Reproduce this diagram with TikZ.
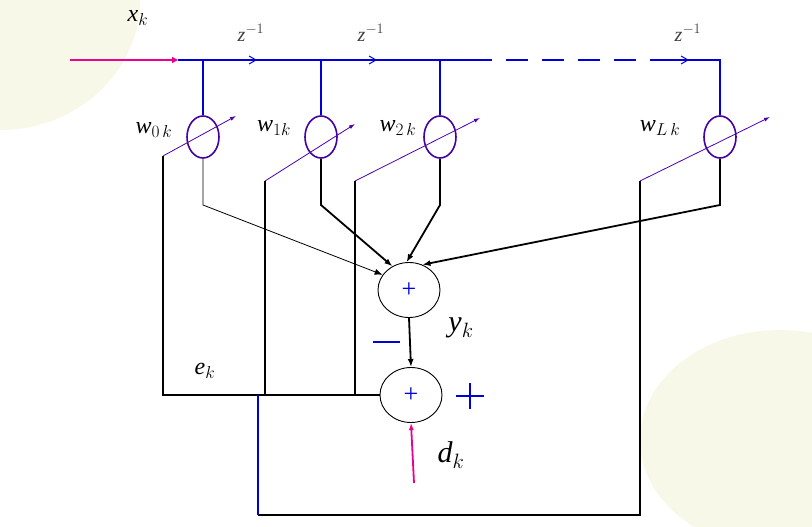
\documentclass[tikz,border=0pt]{standalone}
\usepackage{fontspec}
\setmainfont{Liberation Serif}
\usetikzlibrary{arrows.meta,shapes.geometric}
\begin{document}
\begin{tikzpicture}[x=1pt,y=-1pt,
  bus/.style={draw=blue!85!black,line width=1.8pt},
  blk/.style={draw=black,line width=1.8pt},
  wt/.style={ellipse,draw=blue!60!purple!90!black,line width=1.6pt,minimum width=32pt,minimum height=42pt,inner sep=0pt},
  sm/.style={ellipse,draw=black,line width=0.9pt,minimum width=62pt,minimum height=55pt,inner sep=0pt,text=blue!85!black,font=\fontsize{26}{28}\selectfont},
  adj/.style={draw=blue!60!purple,line width=0.8pt,-{Latex[length=6pt,width=4pt]}},
  lab/.style={font=\fontsize{24}{26}\selectfont\itshape},
  big/.style={font=\fontsize{30}{32}\selectfont\itshape},
  zl/.style={font=\fontsize{20}{22}\selectfont\itshape,text=black!75},
  inner sep=0pt]
\useasboundingbox[fill=white] (0,0) rectangle (812,527);
\fill[olive!6] (0,0) ellipse (140 and 130);
\fill[olive!6] (780,440) ellipse (140 and 110);
% taps
\coordinate (in) at (70,60);
\coordinate (b0) at (178,60);
\coordinate (t0) at (203,60);
\coordinate (t1) at (321,60);
\coordinate (t2) at (440,60);
\coordinate (d1) at (470,60);
\coordinate (d2) at (660,60);
\coordinate (tL) at (720,60);
\node[wt] (w0) at (203,137) {};
\node[wt] (w1) at (321,137) {};
\node[wt] (w2) at (440,137) {};
\node[wt] (wL) at (720,137) {};
\draw[draw=magenta,line width=2.4pt,-{Triangle[length=6pt,width=6pt]}] (in) -- (b0);
\draw[bus] (b0) -- (d1);
\draw[bus,dash pattern=on 22pt off 14pt] (d1) -- (d2);
\draw[bus] (d2) -- (tL) -- (wL.north);
\draw[bus] (t0) -- (w0.north);
\draw[bus] (t1) -- (w1.north);
\draw[bus] (t2) -- (w2.north);
\foreach \x in {256,376,688}{
  \draw[blue!85!black,line width=1pt] (\x-7,56) -- (\x,60) -- (\x-7,64);
}
\node[zl] (z1) at (251,33) {z$^{-1}$};
\node[zl] (z2) at (371,33) {z$^{-1}$};
\node[zl] (z3) at (688,33) {z$^{-1}$};
\node[lab] (xk) at (138,18) {x$_{k}$};
\node[lab] (l0) at (154,130) {w$_{0\,k}$};
\node[lab] (l1) at (274,128) {w$_{1k}$};
\node[lab] (l2) at (398,128) {w$_{2\,k}$};
\node[lab] (lL) at (660,128) {w$_{L\,k}$};
% adjust arrows
\coordinate (a0) at (163,156);
\coordinate (a1) at (265,181);
\coordinate (a2) at (355,181);
\coordinate (aL) at (640,181);
\draw[adj] (a0) -- (236,116);
\draw[adj] (a1) -- (355,124);
\draw[adj] (a2) -- (480,118);
\draw[adj] (aL) -- (770,117);
% summers
\node[sm] (s1) at (409,290) {+};
\node[sm] (s2) at (411,395) {+};
\draw[black,line width=0.8pt,-{Latex[length=8pt,width=6pt]}] (w0.south) -- (203,205) -- (s1.150);
\draw[blk,-{Latex[length=8pt,width=6pt]}] (w1.south) -- (321,205) -- (s1.125);
\draw[blk,-{Latex[length=8pt,width=6pt]}] (w2.south) -- (440,205) -- (s1.95);
\draw[blk,-{Latex[length=8pt,width=6pt]}] (wL.south) -- (720,205) -- (s1.62);
\draw[blk,-{Latex[length=8pt,width=6pt]}] (s1.south) -- (s2.north);
% error feedback
\coordinate (e0) at (163,395);
\coordinate (e1) at (265,395);
\coordinate (e2) at (355,395);
\coordinate (eb) at (258,395);
\coordinate (eb2) at (258,515);
\coordinate (eL) at (640,515);
\draw[blk] (a0) -- (e0) -- (s2.west);
\draw[blk] (a1) -- (e1);
\draw[blk] (a2) -- (e2);
\draw[blk] (aL) -- (eL) -- (eb2);
\draw[bus] (eb2) -- (eb);
\coordinate (dk) at (414,483);
\draw[draw=magenta,line width=1.8pt,-{Latex[length=7pt,width=5pt]}] (dk) -- (s2.south);
\node[lab] (ek) at (205,371) {e$_{k}$};
\node[big] (yk) at (461,328) {y$_{k}$};
\node[big] (dkl) at (451,455) {d$_{k}$};
\draw[blue!85!black,line width=1.3pt] (373,342) -- (400,342);
\draw[blue!85!black,line width=1.5pt] (456,396) -- (484,396) (470,383) -- (470,409);
\end{tikzpicture}
\end{document}
